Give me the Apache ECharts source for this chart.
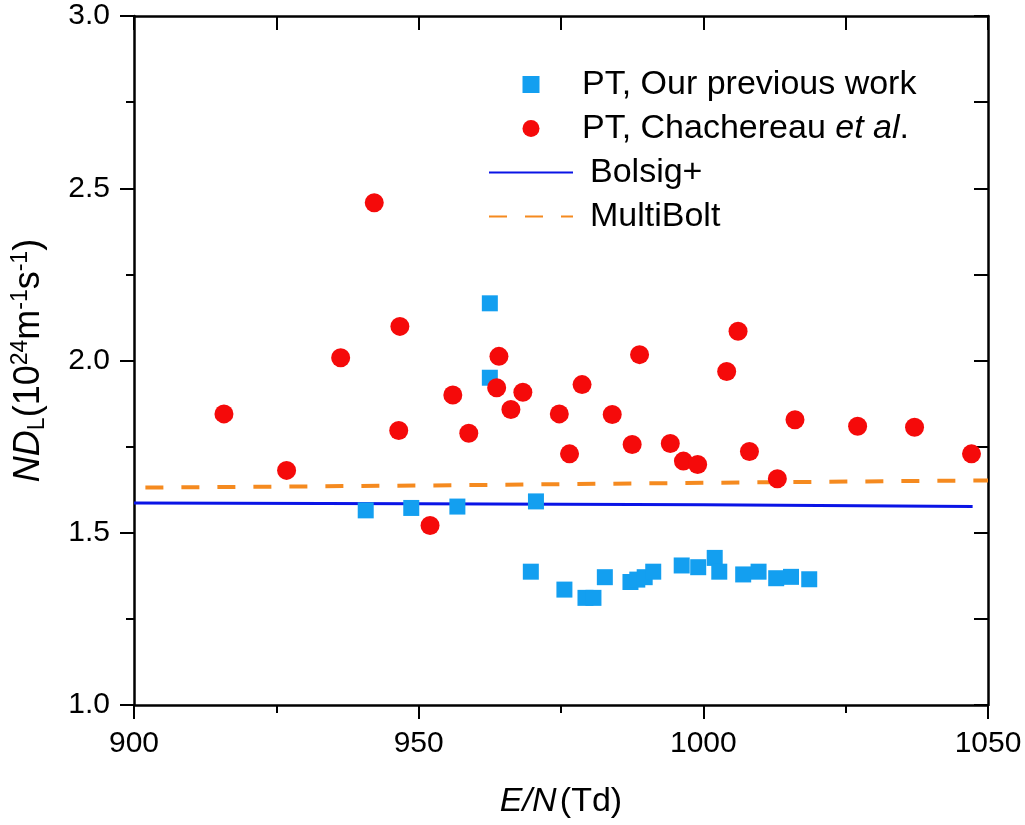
<!DOCTYPE html>
<html>
<head>
<meta charset="utf-8">
<script src="https://cdn.jsdelivr.net/npm/echarts@6/dist/echarts.min.js"></script>
<style>
  html, body { margin: 0; padding: 0; background: #fff; }
  #chart { width: 1025px; height: 825px; }
</style>
</head>
<body>
<div id="chart"></div>
<script>
// PT, Our previous work  [E/N (Td), ND_L]
const ourWork = [
  [940.7, 1.565], [948.7, 1.572], [956.8, 1.576], [962.5, 2.166], [962.5, 1.950],
  [970.6, 1.591], [969.7, 1.387], [975.6, 1.335], [979.3, 1.311], [980.7, 1.311],
  [982.7, 1.371], [987.2, 1.357], [988.4, 1.364], [989.7, 1.371], [991.2, 1.387],
  [996.2, 1.405], [999.1, 1.400], [1002.0, 1.427], [1002.8, 1.387], [1007.0, 1.379],
  [1009.7, 1.387], [1012.8, 1.368], [1015.4, 1.372], [1018.6, 1.365]
];

// PT, Chachereau et al.
const chachereau = [
  [915.8, 1.845], [926.8, 1.681], [936.3, 2.008], [942.2, 2.458], [946.7, 2.099],
  [946.5, 1.797], [952.0, 1.521], [956.0, 1.900], [958.8, 1.789], [963.7, 1.921],
  [964.1, 2.012], [966.2, 1.858], [968.3, 1.908], [974.7, 1.845], [976.5, 1.729],
  [978.7, 1.930], [984.0, 1.843], [987.5, 1.756], [988.8, 2.017], [994.2, 1.759],
  [996.5, 1.708], [999.0, 1.698], [1004.1, 1.968], [1006.1, 2.085], [1008.1, 1.736],
  [1013.0, 1.657], [1016.1, 1.828], [1027.1, 1.809], [1037.1, 1.806], [1047.1, 1.729]
];

// calculations
const bolsig = [[900, 1.586], [950, 1.584], [1000, 1.581], [1047.3, 1.576]];
const multiBolt = [[902, 1.631], [950, 1.637], [1000, 1.645], [1050, 1.652]];

const xTicks = [900, 950, 1000, 1050];
const yTicks = [1.0, 1.5, 2.0, 2.5, 3.0];

const font = 'Liberation Sans, Arial, sans-serif';
const axisColor = '#000';
const noSymbol = { color: 'rgba(0,0,0,0)', borderColor: 'rgba(0,0,0,0)', borderWidth: 0 };

const chart = echarts.init(document.getElementById('chart'), null, { renderer: 'canvas' });

const option = {
  backgroundColor: '#fff',
  animation: false,
  grid: { left: 131, right: 37, top: 16, bottom: 120 },
  legend: {
    orient: 'vertical',
    left: 488,
    top: 67,
    padding: 0,
    itemWidth: 84,
    itemHeight: 17,
    itemGap: 9,
    textStyle: {
      fontFamily: font, fontSize: 34, color: '#000', lineHeight: 35,
      rich: { i: { fontFamily: font, fontSize: 34, fontStyle: 'italic', color: '#000', lineHeight: 35 } }
    },
    data: [
      { name: 'PT, Our previous work', icon: 'path://M0,0H10V10H0Z', textStyle: { padding: [0, 0, 0, 4] } },
      { name: 'PT, Chachereau et al.', icon: 'circle', textStyle: { padding: [0, 0, 0, 4] } },
      { name: 'Bolsig+', itemStyle: noSymbol, textStyle: { padding: [0, 0, 0, 12] } },
      { name: 'MultiBolt', itemStyle: noSymbol, textStyle: { padding: [0, 0, 0, 12] } }
    ],
    formatter: function (name) {
      if (name === 'PT, Chachereau et al.') return 'PT, Chachereau {i|et al}.';
      return name;
    }
  },
  xAxis: [
    {
      type: 'value',
      min: xTicks[0],
      max: xTicks[xTicks.length - 1],
      interval: 50,
      position: 'bottom',
      name: '{i|E/N} {n|(Td)}',
      nameLocation: 'middle',
      nameGap: 80,
      nameTextStyle: {
        rich: {
          i: { fontFamily: font, fontSize: 34, fontStyle: 'italic', color: '#000' },
          n: { fontFamily: font, fontSize: 34, color: '#000' }
        }
      },
      axisLine: { show: true, onZero: false, lineStyle: { color: axisColor, width: 2.5 } },
      axisTick: { show: true, inside: false, length: 14, lineStyle: { color: axisColor, width: 2 } },
      minorTick: { show: true, splitNumber: 2, length: 8, lineStyle: { color: axisColor, width: 2 } },
      axisLabel: { margin: 24, fontFamily: font, fontSize: 30, color: '#000', formatter: v => String(v) },
      splitLine: { show: false }
    },
    {
      type: 'value',
      min: xTicks[0],
      max: xTicks[xTicks.length - 1],
      interval: 25,
      position: 'top',
      axisLine: { show: true, onZero: false, lineStyle: { color: axisColor, width: 2.5 } },
      axisTick: { show: true, inside: true, length: 14, lineStyle: { color: axisColor, width: 2 } },
      axisLabel: { show: false },
      splitLine: { show: false }
    }
  ],
  yAxis: [
    {
      type: 'value',
      min: yTicks[0],
      max: yTicks[yTicks.length - 1],
      interval: 0.5,
      position: 'left',
      name: '{i|ND}{sub|L}{n|(10}{sup|24}{n|m}{sup|-1}{n|s}{sup|-1}{n|)}',
      nameLocation: 'middle',
      nameGap: 84,
      nameTextStyle: {
        rich: {
          i: { fontFamily: font, fontSize: 36, fontStyle: 'italic', color: '#000', lineHeight: 42, verticalAlign: 'middle' },
          n: { fontFamily: font, fontSize: 36, color: '#000', lineHeight: 42, verticalAlign: 'middle' },
          sub: { fontFamily: font, fontSize: 23, color: '#000', lineHeight: 42, verticalAlign: 'bottom', padding: [0, 0, 1, 0] },
          sup: { fontFamily: font, fontSize: 23, color: '#000', lineHeight: 42, verticalAlign: 'top', padding: [1, 0, 0, 0] }
        }
      },
      axisLine: { show: true, onZero: false, lineStyle: { color: axisColor, width: 2.5 } },
      axisTick: { show: true, inside: false, length: 14, lineStyle: { color: axisColor, width: 2 } },
      minorTick: { show: true, splitNumber: 2, length: 8, lineStyle: { color: axisColor, width: 2 } },
      axisLabel: {
        margin: 24,
        fontFamily: font,
        fontSize: 30,
        color: '#000',
        formatter: v => v.toFixed(1)
      },
      splitLine: { show: false }
    },
    {
      type: 'value',
      min: yTicks[0],
      max: yTicks[yTicks.length - 1],
      interval: 0.25,
      position: 'right',
      axisLine: { show: true, onZero: false, lineStyle: { color: axisColor, width: 2.5 } },
      axisTick: { show: true, inside: true, length: 14, lineStyle: { color: axisColor, width: 2 } },
      axisLabel: { show: false },
      splitLine: { show: false }
    }
  ],
  series: [
    {
      name: 'Bolsig+',
      type: 'line',
      data: bolsig,
      showSymbol: false,
      symbol: 'none',
      lineStyle: { color: '#0a14e6', width: 3 },
      itemStyle: { color: '#0a14e6' },
      z: 2
    },
    {
      name: 'MultiBolt',
      type: 'line',
      data: multiBolt,
      showSymbol: false,
      symbol: 'none',
      lineStyle: { color: '#f58a1f', width: 4, type: [18, 18] },
      itemStyle: { color: '#f58a1f' },
      z: 2
    },
    {
      name: 'PT, Our previous work',
      type: 'scatter',
      data: ourWork,
      symbol: 'rect',
      symbolSize: 16,
      itemStyle: { color: '#139ff0', opacity: 1 },
      z: 3
    },
    {
      name: 'PT, Chachereau et al.',
      type: 'scatter',
      data: chachereau,
      symbol: 'circle',
      symbolSize: 19,
      itemStyle: { color: '#f50a0a', opacity: 1 },
      z: 4
    }
  ]
};

chart.setOption(option);
</script>
</body>
</html>
